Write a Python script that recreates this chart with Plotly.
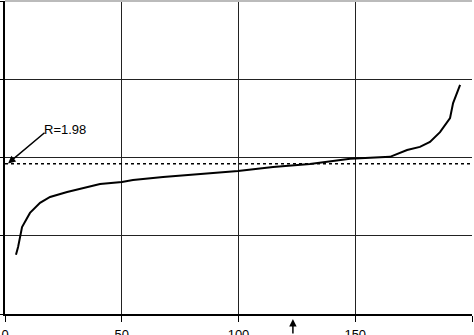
import plotly.graph_objects as go

# Sorted ratio curve
rank = [4.7, 5.6, 7.3, 10.7, 15.0, 19.3, 26.6, 33.4, 40.7, 50.1, 54.8, 67.7, 83.5,
        99.8, 114.8, 130.6, 147.8, 150.0, 164.9, 172.2, 177.7, 182.0, 186.3, 190.6,
        191.9, 194.9]
ratio = [1.689, 1.714, 1.778, 1.823, 1.855, 1.874, 1.890, 1.903, 1.915, 1.922, 1.928,
         1.938, 1.947, 1.957, 1.970, 1.979, 1.996, 1.997, 2.002, 2.024, 2.034, 2.050,
         2.081, 2.126, 2.174, 2.232]
r_value = 1.98
r_label = "R=1.98"
x_ticks = [0, 50, 100, 150, 200]
x_marker = 123.3

fig = go.Figure()
fig.add_trace(go.Scatter(x=rank, y=ratio, mode="lines",
                         line=dict(color="black", width=2), showlegend=False))
fig.add_trace(go.Scatter(x=[0, 200], y=[r_value, r_value], mode="lines",
                         line=dict(color="black", width=1.5, dash="dot"), showlegend=False))

fig.add_annotation(x=1.3, y=r_value + 0.001, ax=38, ay=-32, axref="pixel", ayref="pixel",
                   text="", showarrow=True, arrowhead=2, arrowsize=1, arrowwidth=1.5,
                   arrowcolor="black")
fig.add_annotation(x=16, y=2.09, text=r_label, showarrow=False, xanchor="left",
                   yanchor="middle", font=dict(family="Liberation Sans, Arial", size=13, color="black"))
fig.add_annotation(x=x_marker, y=-0.016, xref="x", yref="paper", ax=0, ay=30,
                   text="", showarrow=True, arrowhead=2, arrowsize=1, arrowwidth=1.5,
                   arrowcolor="black")

fig.update_xaxes(range=[0, 200], tickvals=x_ticks, ticktext=[str(v) for v in x_ticks],
                 showgrid=True, gridcolor="#222", gridwidth=1, zeroline=False,
                 showline=True, linecolor="black", linewidth=1.5, automargin=False,
                 ticks="outside", ticklen=6, tickcolor="black", ticklabelstandoff=2,
                 tickfont=dict(family="Liberation Sans, Arial", size=13, color="black"))
fig.update_yaxes(range=[1.5, 2.5], dtick=0.25, tick0=1.5, showticklabels=False,
                 showgrid=True, gridcolor="#222", gridwidth=1, zeroline=False,
                 showline=True, linecolor="black", linewidth=1.5, automargin=False,
                 ticks="outside", ticklen=5, tickcolor="black")

fig.add_shape(type="line", xref="paper", yref="paper", x0=0, x1=1, y0=1, y1=1,
              line=dict(color="#bbbbbb", width=2))

fig.update_layout(width=474, height=335, margin=dict(l=5, r=2, t=1, b=21, autoexpand=False),
                  paper_bgcolor="white", plot_bgcolor="white")
fig.write_html("out.html")
